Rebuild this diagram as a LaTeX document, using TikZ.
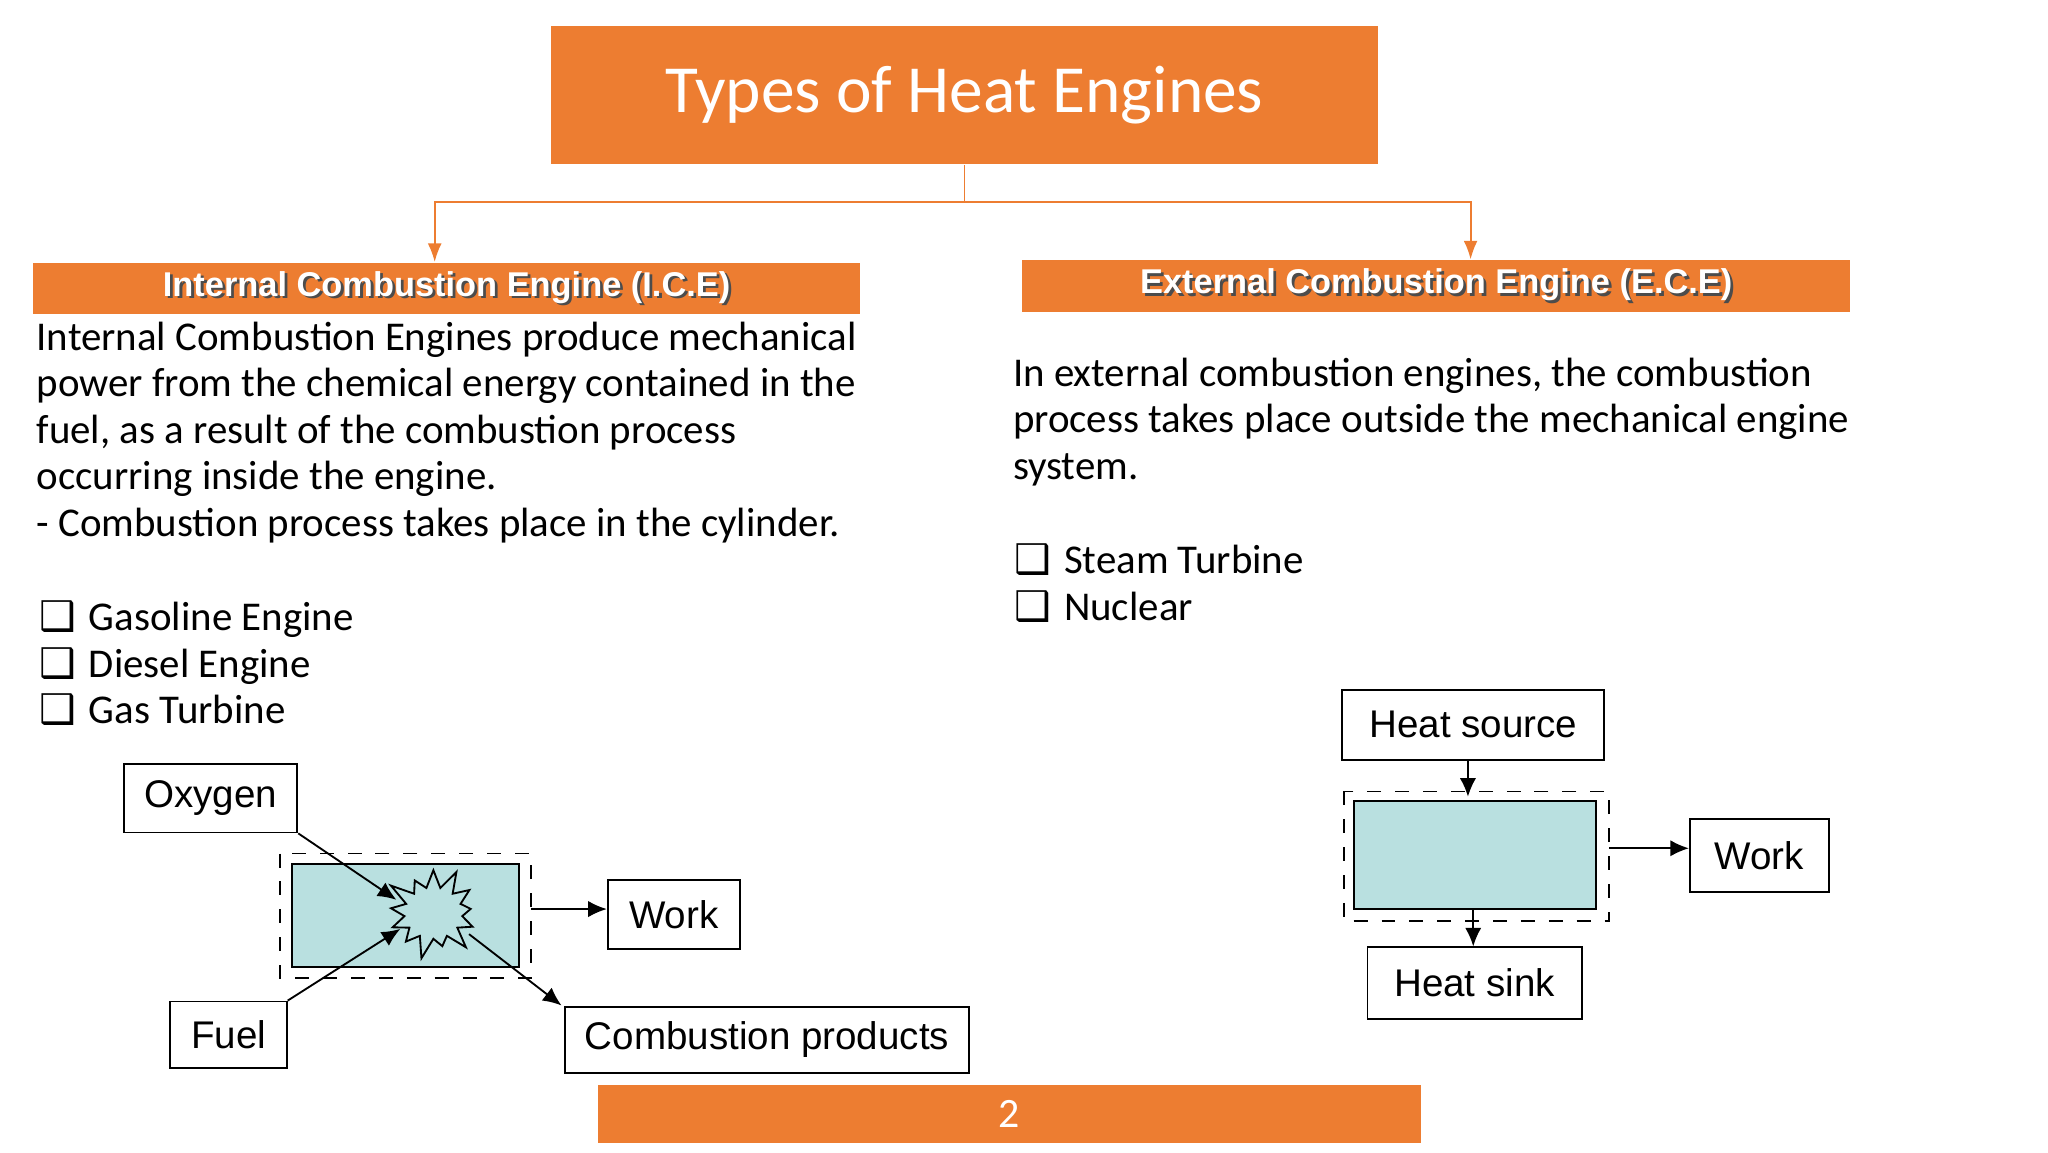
\documentclass[tikz,border=0pt]{standalone}
\usepackage{fontspec}
\setmainfont{Carlito}
\newfontfamily\arialfont{Liberation Sans}
\newfontfamily\symfont{DejaVu Sans}
\usetikzlibrary{arrows.meta, positioning, shapes.symbols}
\definecolor{engorange}{HTML}{ED7D31}
\definecolor{chamber}{HTML}{B9E0E0}
\newcommand{\chk}{{\symfont\char"2751}}
\newcommand{\shadowtext}[1]{\leavevmode\rlap{\kern0.6pt\raisebox{-0.6pt}{\color{black!70}#1}}#1}

\begin{document}
\begin{tikzpicture}[x=0.01cm, y=-0.01cm,
      bar/.style = {fill=engorange, inner sep=0pt},
      headtext/.style = {text=white, font=\arialfont\bfseries\fontsize{7.4}{8}\selectfont},
      body/.style = {anchor=north west, align=left, inner sep=0pt,
          font=\fontsize{8.8}{10}\selectfont},
      lbox/.style = {draw, thin, inner sep=0pt, font=\arialfont\fontsize{8.3}{9}\selectfont},
      tank/.style = {draw, thin, fill=chamber},
      link/.style = {-{Latex[length=4pt,width=3.5pt]}, thin},
      tree/.style = {engorange, -{Latex[length=4pt,width=3pt]}, thin},
    ]
    \useasboundingbox (0,0) rectangle (1550,872);

    % title and branches
    \node[bar, minimum width=6.26cm, minimum height=1.04cm, text=white,
      font=\fontsize{14.5}{16}\selectfont] (title) at (730,72) {Types of Heat Engines};
    \node[bar, minimum width=6.26cm, minimum height=0.39cm, headtext] (ice) at (338,218.5)
      {\shadowtext{Internal Combustion Engine (I.C.E)}};
    \node[bar, minimum width=6.26cm, minimum height=0.39cm, headtext] (ece) at (1087,216.5)
      {\shadowtext{External Combustion Engine (E.C.E)}};
    \coordinate (fork) at (730,153);
    \draw[engorange, thin] (title.south) -- (fork);
    \draw[tree] (fork) -| (ice.north -| 329,0);
    \draw[tree] (fork) -| (ece.north -| 1113,0);

    % descriptions
    \node[body] (icetext) at (27,243) {Internal Combustion Engines produce mechanical\\
      power from the chemical energy contained in the\\
      fuel, as a result of the combustion process\\
      occurring inside the engine.\\
      - Combustion process takes place in the cylinder.};
    \node[body] (icelist) at (29,454) {\chk\hspace{0.32em}Gasoline Engine\\
      \chk\hspace{0.32em}Diesel Engine\\ \chk\hspace{0.32em}Gas Turbine};
    \node[body] (ecetext) at (766,270) {In external combustion engines, the combustion\\
      process takes place outside the mechanical engine\\ system.};
    \node[body] (ecelist) at (767,411) {\chk\hspace{0.32em}Steam Turbine\\
      \chk\hspace{0.32em}Nuclear};

    % internal combustion sketch
    \draw[dashed] (212,646) rectangle (402,740);
    \node[tank, minimum width=1.72cm, minimum height=0.78cm] (cyl) at (307,693) {};
    \node[starburst, draw, thin, fill=chamber, starburst points=13, starburst point height=0.18cm,
      minimum width=0.8cm, minimum height=0.75cm, inner sep=0pt] (flame) at (328,691) {};
    \node[lbox, minimum width=1.31cm, minimum height=0.52cm] (oxygen) at (159.5,604) {Oxygen};
    \node[lbox, minimum width=0.88cm, minimum height=0.50cm] (fuel) at (173,783) {Fuel};
    \node[lbox, minimum width=1.00cm, minimum height=0.52cm] (work) at (510,692) {Work};
    \node[lbox, minimum width=3.05cm, minimum height=0.50cm] (prod) at (580.5,787) {Combustion products};
    \coordinate (dashE) at (402,688);
    \draw[link] (oxygen.south east) -- (300,681);
    \draw[link] (fuel.north east) -- (303,703);
    \draw[link] (355,707) -- (425,761);
    \draw[link] (dashE) -- (work.west |- dashE);

    % external combustion sketch
    \draw[dashed] (1017,599) rectangle (1218,697);
    \node[tank, minimum width=1.83cm, minimum height=0.82cm] (boiler) at (1116.5,647) {};
    \node[lbox, minimum width=1.98cm, minimum height=0.53cm] (source) at (1115,548.5) {Heat source};
    \node[lbox, minimum width=1.62cm, minimum height=0.54cm] (sink) at (1116,744) {Heat sink};
    \node[lbox, minimum width=1.05cm, minimum height=0.55cm] (work2) at (1331.5,647.5) {Work};
    \coordinate (dashR) at (1218,642);
    \draw[link] (1111,575) -- (1111,603);
    \draw[link] (1115,688) -- (sink.north -| 1115,0);
    \draw[link] (dashR) -- (work2.west |- dashR);

    % page number
    \node[bar, minimum width=6.22cm, minimum height=0.44cm, text=white,
      font=\fontsize{9}{10}\selectfont] (page) at (764,843) {2};
  \end{tikzpicture}
\end{document}
